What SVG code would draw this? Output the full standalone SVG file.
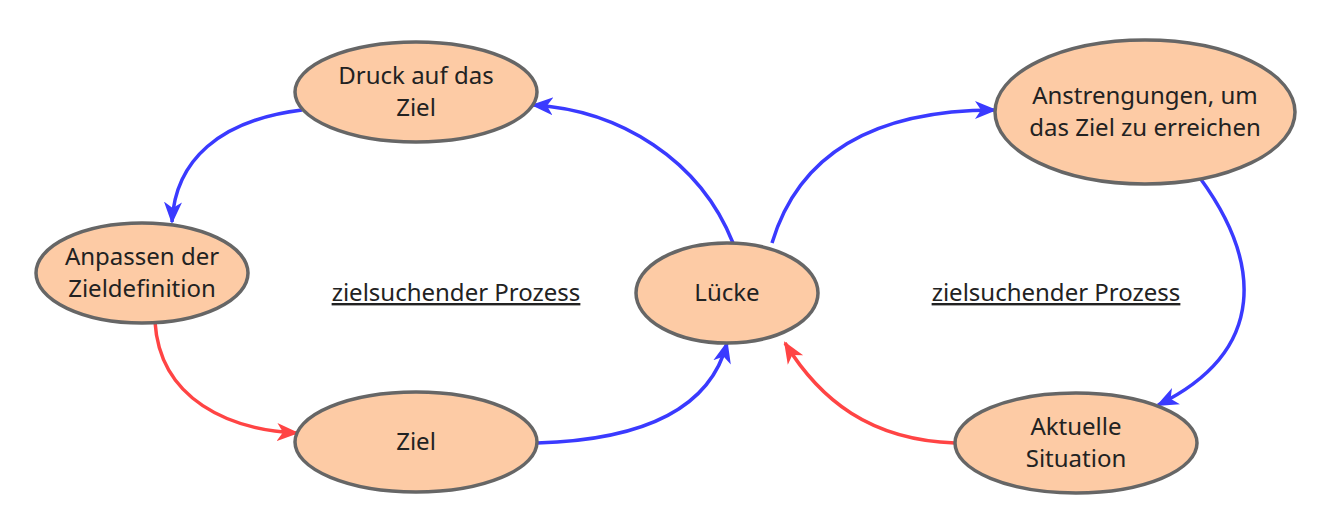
<svg xmlns="http://www.w3.org/2000/svg" width="1325" height="517" viewBox="0 0 1325 517">
<style>
.n{fill:#fdcba5;stroke:#666;stroke-width:3.5}
.t{font-family:"Comic Sans MS","Noto Sans","DejaVu Sans",sans-serif;font-size:24px;fill:#222;text-anchor:middle}
.b{fill:none;stroke:#3a3aff;stroke-width:3.5}
.r{fill:none;stroke:#ff4444;stroke-width:3.5}
</style>
<defs>
<marker id="mb" markerWidth="24" markerHeight="20" refX="20" refY="10" orient="auto" markerUnits="userSpaceOnUse"><path d="M0,1 L22,10 L0,19 L6,10 Z" fill="#3a3aff"/></marker>
<marker id="mr" markerWidth="24" markerHeight="20" refX="20" refY="10" orient="auto" markerUnits="userSpaceOnUse"><path d="M0,1 L22,10 L0,19 L6,10 Z" fill="#ff4444"/></marker>
</defs>
<rect width="1325" height="517" fill="#fff"/>
<g id="connectors">
<path class="b" d="M733,243 C700,160 620,110 533,105" marker-end="url(#mb)"/>
<path class="b" d="M302,110 C220,120 175,160 172,222" marker-end="url(#mb)"/>
<path class="r" d="M155,322 C160,400 230,430 297,433" marker-end="url(#mr)"/>
<path class="b" d="M537,443 C640,440 710,410 727,343" marker-end="url(#mb)"/>
<path class="b" d="M772,243 C800,150 880,110 995,110" marker-end="url(#mb)"/>
<path class="b" d="M1200,178 C1260,260 1270,350 1158,405" marker-end="url(#mb)"/>
<path class="r" d="M955,443 C870,440 820,400 785,343" marker-end="url(#mr)"/>
</g>
<g id="druck"><ellipse class="n" cx="416" cy="92" rx="121" ry="50"/><text class="t" x="416" y="84">Druck auf das</text><text class="t" x="416" y="116">Ziel</text></g>
<g id="anpassen"><ellipse class="n" cx="142" cy="273" rx="106" ry="50"/><text class="t" x="142" y="265">Anpassen der</text><text class="t" x="142" y="297">Zieldefinition</text></g>
<g id="ziel"><ellipse class="n" cx="416" cy="442" rx="121" ry="50"/><text class="t" x="416" y="450">Ziel</text></g>
<g id="luecke"><ellipse class="n" cx="727" cy="293" rx="91" ry="50"/><text class="t" x="727" y="301">Lücke</text></g>
<g id="anstrengungen"><ellipse class="n" cx="1145" cy="112" rx="150" ry="72"/><text class="t" x="1145" y="104">Anstrengungen, um</text><text class="t" x="1145" y="136">das Ziel zu erreichen</text></g>
<g id="aktuelle"><ellipse class="n" cx="1076" cy="443" rx="121" ry="50"/><text class="t" x="1076" y="435">Aktuelle</text><text class="t" x="1076" y="467">Situation</text></g>
<g id="labels">
<text class="t" x="456" y="301" text-decoration="underline">zielsuchender Prozess</text>
<text class="t" x="1056" y="301" text-decoration="underline">zielsuchender Prozess</text>
</g>
</svg>
